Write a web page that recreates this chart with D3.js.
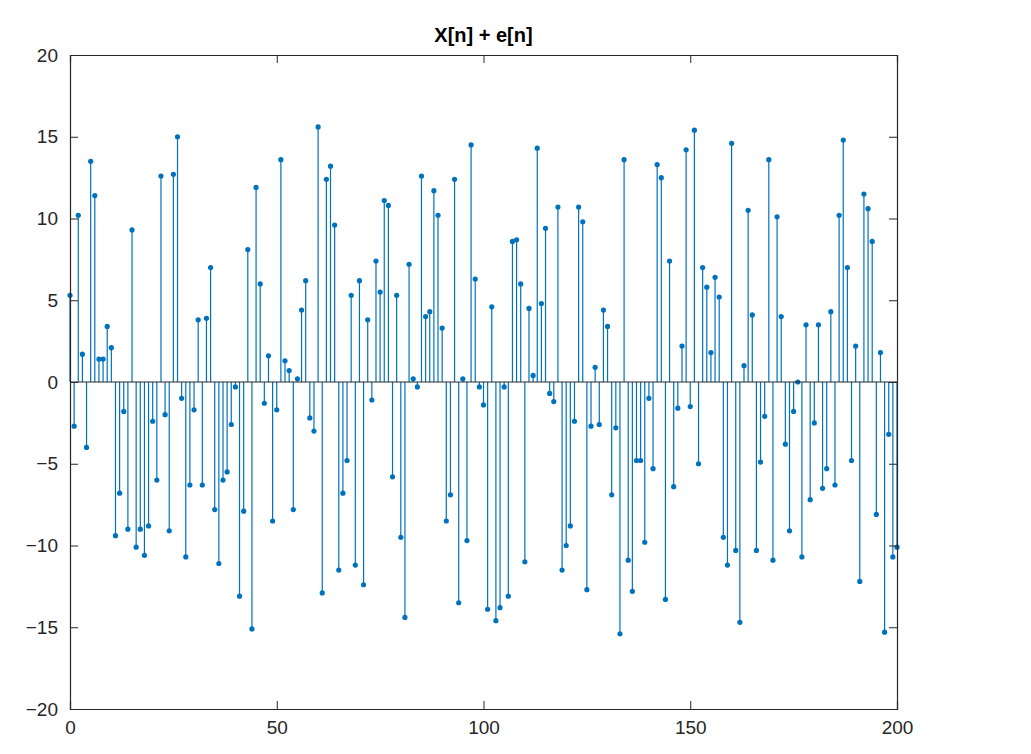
<!DOCTYPE html>
<html><head><meta charset="utf-8">
<script src="https://cdn.jsdelivr.net/npm/d3@7"></script>
<style>body{margin:0;background:#fff}svg{display:block}</style></head>
<body><svg id="c" width="1031" height="754"></svg>
<script>
const values = [5.3,-2.7,10.2,1.7,-4.0,13.5,11.4,1.4,1.4,3.4,2.1,-9.4,-6.8,-1.8,-9.0,9.3,-10.1,-9.0,-10.6,-8.8,
-2.4,-6.0,12.6,-2.0,-9.1,12.7,15.0,-1.0,-10.7,-6.3,-1.7,3.8,-6.3,3.9,7.0,-7.8,-11.1,-6.0,-5.5,-2.6,
-0.3,-13.1,-7.9,8.1,-15.1,11.9,6.0,-1.3,1.6,-8.5,-1.7,13.6,1.3,0.7,-7.8,0.2,4.4,6.2,-2.2,-3.0,
15.6,-12.9,12.4,13.2,9.6,-11.5,-6.8,-4.8,5.3,-11.2,6.2,-12.4,3.8,-1.1,7.4,5.5,11.1,10.8,-5.8,5.3,
-9.5,-14.4,7.2,0.2,-0.3,12.6,4.0,4.3,11.7,10.2,3.3,-8.5,-6.9,12.4,-13.5,0.2,-9.7,14.5,6.3,-0.3,
-1.4,-13.9,4.6,-14.6,-13.8,-0.3,-13.1,8.6,8.7,6.0,-11.0,4.5,0.4,14.3,4.8,9.4,-0.7,-1.2,10.7,-11.5,
-10.0,-8.8,-2.4,10.7,9.8,-12.7,-2.7,0.9,-2.6,4.4,3.4,-6.9,-2.8,-15.4,13.6,-10.9,-12.8,-4.8,-4.8,-9.8,
-1.0,-5.3,13.3,12.5,-13.3,7.4,-6.4,-1.6,2.2,14.2,-1.5,15.4,-5.0,7.0,5.8,1.8,6.4,5.2,-9.5,-11.2,
14.6,-10.3,-14.7,1.0,10.5,4.1,-10.3,-4.9,-2.1,13.6,-10.9,10.1,4.0,-3.8,-9.1,-1.8,0.0,-10.7,3.5,-7.2,
-2.5,3.5,-6.5,-5.3,4.3,-6.3,10.2,14.8,7.0,-4.8,2.2,-12.2,11.5,10.6,8.6,-8.1,1.8,-15.3,-3.2,-10.7,-10.1];
const xTicks = [0,50,100,150,200];
const yTicks = [-20,-15,-10,-5,0,5,10,15,20];
const title = "X[n] + e[n]";

const svg = d3.select("#c");
const L=70,R=897,T=55,B=709;
const x = d3.scaleLinear().domain([0,200]).range([L,R]);
const y = d3.scaleLinear().domain([-20,20]).range([B,T]);
const ax="#262626", col="#0072BD";
const font="'Liberation Sans', Arial, sans-serif";

svg.append("rect").attr("x",L).attr("y",T).attr("width",R-L).attr("height",B-T).attr("fill","#fff");

const g = svg.append("g");
g.selectAll("line.stem").data(values).join("line")
 .attr("x1",(d,i)=>x(i)).attr("x2",(d,i)=>x(i)).attr("y1",y(0)).attr("y2",d=>y(d))
 .attr("stroke",col).attr("stroke-width",1.2);
svg.append("line").attr("x1",L).attr("x2",R).attr("y1",y(0)).attr("y2",y(0)).attr("stroke",ax).attr("stroke-width",1);
g.selectAll("circle").data(values).join("circle")
 .attr("cx",(d,i)=>x(i)).attr("cy",d=>y(d)).attr("r",2.6).attr("fill",col);

const xa = svg.append("g").attr("transform",`translate(0,${B})`).call(d3.axisBottom(x).tickValues(xTicks).tickSize(-8).tickPadding(12));
const xa2 = svg.append("g").attr("transform",`translate(0,${T})`).call(d3.axisTop(x).tickValues(xTicks).tickSize(-8).tickFormat(""));
const ya = svg.append("g").attr("transform",`translate(${L},0)`).call(d3.axisLeft(y).tickValues(yTicks).tickSize(-8).tickPadding(12));
const ya2 = svg.append("g").attr("transform",`translate(${R},0)`).call(d3.axisRight(y).tickValues(yTicks).tickSize(-8).tickFormat(""));
[xa,xa2,ya,ya2].forEach(a=>{
  a.selectAll("path").attr("stroke",ax).attr("stroke-width",1.2);
  a.selectAll("line").attr("stroke",ax);
  a.selectAll("text").attr("fill",ax).style("font-family",font).style("font-size","19px");
});
svg.append("text").attr("x",(L+R)/2).attr("y",42).attr("text-anchor","middle")
 .style("font-family",font).style("font-size","20px").style("font-weight","bold").attr("fill","#000").text(title);
</script></body></html>
